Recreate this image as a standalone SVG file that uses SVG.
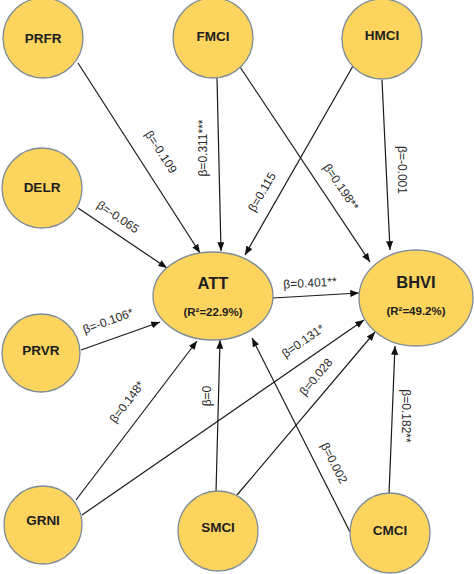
<svg xmlns="http://www.w3.org/2000/svg" width="474" height="574" viewBox="0 0 474 574">
<defs>
<marker id="arr" viewBox="0 0 10 8" refX="10" refY="4" markerWidth="9" markerHeight="7" markerUnits="userSpaceOnUse" orient="auto">
<path d="M0,0 L10,4 L0,8 Z" fill="#111"/>
</marker>
<style>
.n{fill:#FCD45E;stroke:#7d8b98;stroke-width:1.3}
.t{font-family:"Liberation Sans",Arial,sans-serif;font-weight:bold;font-size:13.5px;fill:#1e1e1e;text-anchor:middle;dominant-baseline:central}
.big{font-size:16.5px}
.r2{font-size:11.5px}
.e{stroke:#1a1a1a;stroke-width:1.2;fill:none;marker-end:url(#arr)}
.l{font-family:"Liberation Sans",Arial,sans-serif;font-size:12px;fill:#2a2a2a;text-anchor:middle;dominant-baseline:central}
</style>
</defs>
<rect width="474" height="574" fill="#fff"/>
<g id="connectors">
<line class="e" x1="78" y1="63" x2="200" y2="253"/>
<line class="e" x1="217" y1="78" x2="221" y2="251"/>
<line class="e" x1="240" y1="67" x2="370" y2="262"/>
<line class="e" x1="353" y1="66" x2="245" y2="255"/>
<line class="e" x1="382" y1="80" x2="390" y2="250"/>
<line class="e" x1="78" y1="208" x2="167" y2="268"/>
<line class="e" x1="81" y1="350" x2="160" y2="322"/>
<line class="e" x1="273" y1="298" x2="359" y2="293"/>
<line class="e" x1="76" y1="500" x2="197" y2="341"/>
<line class="e" x1="82" y1="515" x2="364" y2="320"/>
<line class="e" x1="216" y1="492" x2="220" y2="340"/>
<line class="e" x1="237" y1="495" x2="375" y2="332"/>
<line class="e" x1="350" y1="532" x2="252" y2="338"/>
<line class="e" x1="389" y1="494" x2="395" y2="346"/>
<text class="l" transform="translate(161,152) rotate(57)">β=-0.109</text>
<text class="l" transform="translate(203,148) rotate(-90)">β=0.311***</text>
<text class="l" transform="translate(341,187) rotate(56)">β=0.198**</text>
<text class="l" transform="translate(262,192) rotate(-60)">β=0.115</text>
<text class="l" transform="translate(402,170) rotate(90)">β=-0.001</text>
<text class="l" transform="translate(118,217) rotate(34)">β=-0.065</text>
<text class="l" transform="translate(108,321) rotate(-20)">β=-0.106*</text>
<text class="l" transform="translate(310,283) rotate(-3)">β=0.401**</text>
<text class="l" transform="translate(127,402) rotate(-53)">β=0.148*</text>
<text class="l" transform="translate(303,341) rotate(-35)">β=0.131*</text>
<text class="l" transform="translate(207,396) rotate(-90)">β=0</text>
<text class="l" transform="translate(316,377) rotate(-50)">β=0.028</text>
<text class="l" transform="translate(334,463) rotate(63)">β=0.002</text>
<text class="l" transform="translate(406,416) rotate(90)">β=0.182**</text>
</g>
<g id="PRFR"><circle class="n" cx="43" cy="38" r="40"/><text class="t" x="43" y="38">PRFR</text></g>
<g id="FMCI"><circle class="n" cx="213" cy="38" r="40"/><text class="t" x="213" y="36">FMCI</text></g>
<g id="HMCI"><circle class="n" cx="382" cy="39" r="40"/><text class="t" x="382" y="35">HMCI</text></g>
<g id="DELR"><circle class="n" cx="42" cy="188" r="40"/><text class="t" x="42" y="187">DELR</text></g>
<g id="PRVR"><circle class="n" cx="41" cy="353" r="39"/><text class="t" x="41" y="350">PRVR</text></g>
<g id="GRNI"><circle class="n" cx="43" cy="525" r="39"/><text class="t" x="43" y="520">GRNI</text></g>
<g id="SMCI"><circle class="n" cx="218" cy="531" r="40"/><text class="t" x="218" y="527">SMCI</text></g>
<g id="CMCI"><circle class="n" cx="390" cy="533" r="40"/><text class="t" x="390" y="530">CMCI</text></g>
<g id="ATT"><ellipse class="n" cx="213" cy="296" rx="60" ry="44"/><text class="t big" x="213" y="283">ATT</text><text class="t r2" x="213" y="312">(R²=22.9%)</text></g>
<g id="BHVI"><ellipse class="n" cx="416" cy="298" rx="57" ry="48"/><text class="t big" x="416" y="282">BHVI</text><text class="t r2" x="416" y="311">(R²=49.2%)</text></g>
</svg>
